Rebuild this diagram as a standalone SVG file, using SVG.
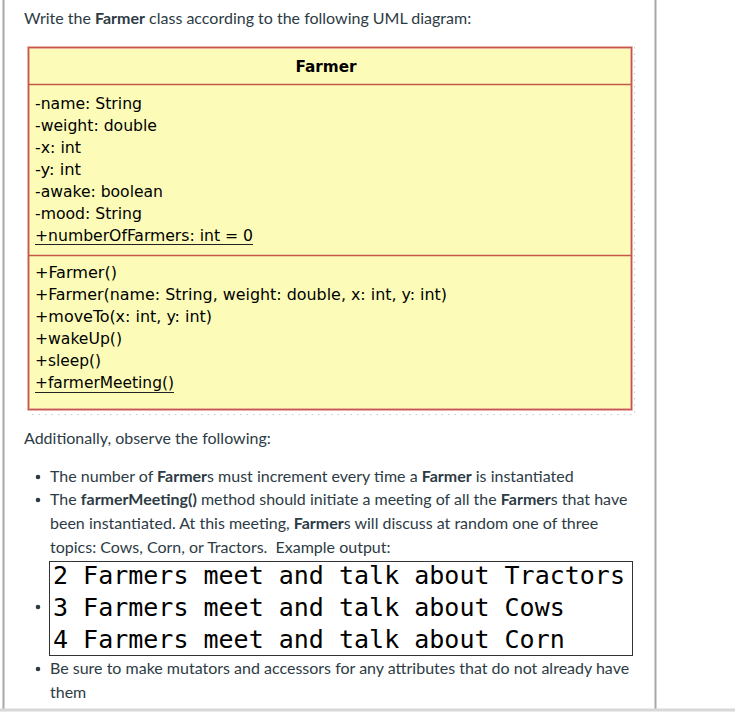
<svg xmlns="http://www.w3.org/2000/svg" width="735" height="713" viewBox="0 0 735 713">
<style>
.body{font-family:Lato,"Liberation Sans",sans-serif;font-size:16px;fill:#2d3b45}
.b{font-weight:bold}
.uml{font-family:"DejaVu Sans Condensed","DejaVu Sans",Tahoma,sans-serif;font-size:16px;fill:#000}
.code{font-family:"DejaVu Sans Mono","Liberation Mono",monospace;font-size:25px;fill:#000}
.ul{stroke:#222;stroke-width:1}
.div{stroke:#c4574a;stroke-width:1.5}
</style>
<rect width="735" height="713" fill="#fff"/>
<g id="page-frame" fill="none" stroke="#a8a8a8" stroke-width="2">
<line x1="3.5" y1="0" x2="3.5" y2="710"/>
<line x1="655.5" y1="0" x2="655.5" y2="710"/>
<line x1="0" y1="710" x2="735" y2="710" stroke="#d8d8d8" stroke-width="3"/>
</g>
<text class="body" x="24" y="24">Write the <tspan class="b">Farmer</tspan> class according to the following UML diagram:</text>
<g id="farmer-class">
<polyline points="634.5,47 634.5,414.5 28,414.5" fill="none" stroke="#c8c8c8" stroke-width="1" stroke-dasharray="1.5,5"/>
<rect x="28.5" y="47.5" width="603" height="362" fill="#fcfcb8" stroke="#e8a8a0" stroke-width="2.5"/>
<rect x="28.5" y="47.5" width="603" height="362" fill="none" stroke="#c4574a" stroke-width="1.2"/>
<line class="div" x1="28" y1="84.5" x2="632" y2="84.5"/>
<line class="div" x1="28" y1="255.5" x2="632" y2="255.5"/>
<text class="uml" x="326" y="72" text-anchor="middle" font-weight="bold" textLength="61" lengthAdjust="spacingAndGlyphs">Farmer</text>
<text class="uml" x="35" y="109" textLength="107" lengthAdjust="spacingAndGlyphs">-name: String</text>
<text class="uml" x="35" y="131" textLength="122" lengthAdjust="spacingAndGlyphs">-weight: double</text>
<text class="uml" x="35" y="153" textLength="46" lengthAdjust="spacingAndGlyphs">-x: int</text>
<text class="uml" x="35" y="175" textLength="46" lengthAdjust="spacingAndGlyphs">-y: int</text>
<text class="uml" x="35" y="197" textLength="128" lengthAdjust="spacingAndGlyphs">-awake: boolean</text>
<text class="uml" x="35" y="219" textLength="107" lengthAdjust="spacingAndGlyphs">-mood: String</text>
<text class="uml" x="35" y="241" textLength="218" lengthAdjust="spacingAndGlyphs">+numberOfFarmers: int = 0</text>
<line class="ul" x1="35" y1="244.5" x2="253" y2="244.5"/>
<text class="uml" x="35" y="278" textLength="82" lengthAdjust="spacingAndGlyphs">+Farmer()</text>
<text class="uml" x="35" y="300" textLength="412" lengthAdjust="spacingAndGlyphs">+Farmer(name: String, weight: double, x: int, y: int)</text>
<text class="uml" x="35" y="322" textLength="177" lengthAdjust="spacingAndGlyphs">+moveTo(x: int, y: int)</text>
<text class="uml" x="35" y="344" textLength="87" lengthAdjust="spacingAndGlyphs">+wakeUp()</text>
<text class="uml" x="35" y="366" textLength="66" lengthAdjust="spacingAndGlyphs">+sleep()</text>
<text class="uml" x="35" y="388" textLength="139" lengthAdjust="spacingAndGlyphs">+farmerMeeting()</text>
<line class="ul" x1="35" y1="392.5" x2="174" y2="392.5"/>
</g>
<g id="connectors"/>
<text class="body" x="24" y="444">Additionally, observe the following:</text>
<g id="bullets" fill="#2d3b45">
<circle cx="38" cy="477" r="2.3"/>
<circle cx="38" cy="500" r="2.3"/>
<circle cx="38" cy="607" r="2.3"/>
<circle cx="38" cy="669" r="2.3"/>
</g>
<text class="body" x="50" y="482">The number of <tspan class="b">Farmer</tspan>s must increment every time a <tspan class="b">Farmer</tspan> is instantiated</text>
<text class="body" x="50" y="505">The <tspan class="b">farmerMeeting()</tspan> method should initiate a meeting of all the <tspan class="b">Farmer</tspan>s that have</text>
<text class="body" x="50" y="529">been instantiated. At this meeting, <tspan class="b">Farmer</tspan>s will discuss at random one of three</text>
<text class="body" x="50" y="553" xml:space="preserve">topics: Cows, Corn, or Tractors.  Example output:</text>
<g id="example-output">
<rect x="49.5" y="561.5" width="583" height="94" fill="#fff" stroke="#333" stroke-width="1"/>
<text class="code" x="53" y="584">2 Farmers meet and talk about Tractors</text>
<text class="code" x="53" y="616">3 Farmers meet and talk about Cows</text>
<text class="code" x="53" y="648">4 Farmers meet and talk about Corn</text>
</g>
<text class="body" x="50" y="674">Be sure to make mutators and accessors for any attributes that do not already have</text>
<text class="body" x="50" y="698">them</text>
</svg>
